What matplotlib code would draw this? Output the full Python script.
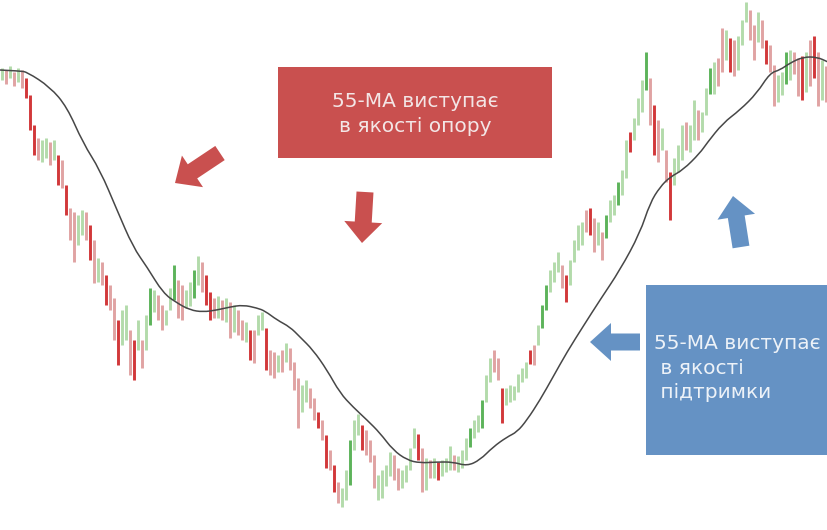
import matplotlib
matplotlib.use("Agg")
import matplotlib.pyplot as plt
from matplotlib.patches import FancyArrow, Rectangle, PathPatch
from matplotlib.path import Path

# ---- data (price levels, arbitrary points) ----
highs = [462, 460, 464, 458, 462, 460, 452, 435, 405, 392,
         390, 392, 388, 390, 375, 370, 345, 322, 318, 315,
         320, 318, 305, 290, 272, 268, 255, 245, 232, 210,
         220, 225, 200, 190, 210, 190, 215, 242, 240, 235,
         225, 220, 242, 265, 250, 245, 240, 248, 260, 274,
         268, 255, 238, 232, 234, 230, 232, 228, 225, 220,
         210, 208, 200, 200, 215, 218, 202, 180, 178, 175,
         180, 187, 182, 168, 152, 145, 150, 142, 132, 118,
         110, 95, 80, 65, 48, 42, 60, 90, 110, 116,
         105, 100, 90, 75, 55, 60, 65, 78, 75, 62,
         60, 65, 82, 102, 96, 82, 72, 70, 72, 68,
         70, 72, 84, 75, 74, 80, 92, 102, 110, 115,
         130, 155, 172, 180, 172, 142, 142, 145, 144, 156,
         162, 168, 180, 185, 205, 225, 245, 260, 268, 278,
         265, 255, 270, 290, 305, 308, 320, 322, 312, 308,
         298, 315, 330, 335, 348, 360, 390, 398, 412, 432,
         450, 478, 452, 425, 410, 402, 380, 358, 372, 385,
         405, 408, 405, 430, 420, 418, 442, 462, 468, 472,
         502, 500, 492, 490, 494, 510, 528, 520, 505, 518,
         510, 490, 485, 465, 455, 458, 478, 480, 478, 472,
         474, 478, 490, 494, 478, 470, 464]
lows = [450, 446, 452, 444, 448, 442, 432, 400, 375, 370,
        368, 372, 365, 370, 345, 342, 315, 290, 268, 285,
        295, 290, 270, 247, 248, 245, 225, 220, 190, 165,
        185, 190, 155, 150, 180, 162, 180, 205, 218, 210,
        200, 205, 220, 230, 212, 210, 222, 224, 232, 245,
        238, 225, 210, 212, 212, 210, 208, 192, 198, 195,
        190, 188, 170, 167, 195, 200, 160, 155, 152, 158,
        158, 168, 160, 140, 102, 118, 128, 122, 110, 102,
        90, 62, 60, 38, 27, 23, 30, 45, 80, 95,
        80, 75, 68, 42, 30, 32, 44, 54, 50, 40,
        42, 48, 60, 82, 70, 38, 40, 52, 52, 50,
        54, 58, 60, 60, 58, 62, 70, 83, 92, 98,
        102, 128, 148, 158, 150, 107, 125, 128, 130, 138,
        148, 152, 166, 165, 185, 202, 220, 238, 248, 258,
        242, 228, 245, 268, 280, 285, 298, 295, 278, 285,
        270, 292, 308, 315, 325, 335, 352, 378, 390, 405,
        418, 440, 405, 375, 368, 380, 348, 310, 345, 358,
        370, 380, 378, 390, 390, 398, 415, 436, 436, 444,
        458, 470, 458, 454, 460, 485, 508, 490, 470, 488,
        482, 466, 458, 424, 428, 435, 446, 450, 456, 434,
        430, 438, 444, 452, 424, 430, 428]
colour_codes = ("GRGRGRrrrR" "GGRGrRrRRG" "GRrRGRrRRr" "GGRrGRGgGR"
                "RGGgRRGGgG" "RrrRGRGRGR" "RGrRGGrRRG" "RGRRRGGRRr"
                "RrRrRGGgGG" "rRRRGGGGRR" "GGGGrRGRGr" "GGGRGGGgGG"
                "gGGRRrGGGG" "GGrRGggGGG" "RrGGGGRrRG" "RgGGgGGrGG"
                "GgRrRGRrGG" "GRGGRGGgGR" "RGrRGGGRRG" "RrRRGGgGRR"
                "rGRrRGR")

# 55-period moving average, read at bar positions
ma_pos = [-0.5, 4.5, 6.25, 12, 16.25, 20.25, 24.5, 28.75, 32.75, 36.25,
          40.25, 43.75, 47, 50.25, 53.75, 57, 60.25, 63.75, 65.75, 68.75,
          72, 74.5, 77.75, 81.25, 84.5, 87.75, 91.25, 94.5, 97.75, 101.25,
          104.5, 108.75, 112.75, 116.25, 119.5, 122.75, 126.25, 128.75, 131.25, 134.5,
          137.75, 141.25, 145.5, 149.5, 154.5, 159.5, 162, 164.5, 167, 170.25,
          174.5, 176.25, 180.25, 184.5, 188.75, 192, 194.5, 197, 200.25, 203.75,
          206.5]
ma_val = [460, 459, 458, 443, 423, 387, 360, 320, 283, 263,
          237, 227, 220, 218, 220, 223, 225, 222, 219, 210,
          203, 193, 180, 160, 137, 123, 110, 97, 80, 70,
          67, 68, 68, 64, 70, 83, 93, 98, 110, 130,
          153, 178, 205, 230, 260, 297, 327, 343, 353, 360,
          377, 387, 407, 420, 437, 457, 460, 467, 473, 473,
          468]

box_red_text = "55-МА виступає\nв якості опору"
box_blue_text = "55-МА виступає\n в якості\n підтримки"

palette = {"G": "#b3dbab", "g": "#5db35a", "R": "#e0a3a3", "r": "#d2383a"}
red_c = "#c9504f"
blue_c = "#6592c4"

W, H = 828, 530
fig = plt.figure(figsize=(W / 100, H / 100), dpi=100)
fig.patch.set_facecolor("white")

ax = fig.add_axes([0, 0, 1, 1])
ax.set_axis_off()
n = len(highs)
ax.set_xlim(-0.5, n - 0.5)
ax.set_ylim(0, 530)

for i, (h, l, c) in enumerate(zip(highs, lows, colour_codes)):
    ax.vlines(i, l, h, color=palette[c], linewidth=2.1, zorder=2)

# smooth rendering of the MA line through the read points (quadratic path)
pts = list(zip(ma_pos, ma_val))
verts = [pts[0]]
codes = [Path.MOVETO]
for k in range(1, len(pts) - 1):
    mid = ((pts[k][0] + pts[k + 1][0]) / 2, (pts[k][1] + pts[k + 1][1]) / 2)
    verts += [pts[k], mid]
    codes += [Path.CURVE3, Path.CURVE3]
verts.append(pts[-1])
codes.append(Path.LINETO)
ax.add_patch(PathPatch(Path(verts, codes), facecolor="none", edgecolor="#474747",
                       linewidth=1.1, zorder=3))

# overlay for annotations in figure pixels
ov = fig.add_axes([0, 0, 1, 1])
ov.set_axis_off()
ov.set_xlim(0, W)
ov.set_ylim(H, 0)
ov.patch.set_alpha(0)

ov.add_patch(Rectangle((278, 67), 274, 91, facecolor=red_c, edgecolor="none", zorder=4))
ov.text(415, 114, box_red_text, ha="center", va="center", color="#f3e6e6",
        fontsize=14.5, linespacing=1.45, zorder=5, family="DejaVu Sans")

ov.add_patch(Rectangle((646, 285), 190, 170, facecolor=blue_c, edgecolor="none", zorder=4))
ov.text(654, 368, box_blue_text, ha="left", va="center", color="#edf2f8",
        fontsize=14.5, linespacing=1.38, zorder=5, family="DejaVu Sans")

def arrow(x0, y0, x1, y1, col):
    ov.add_patch(FancyArrow(x0, y0, x1 - x0, y1 - y0, width=17, head_width=38,
                            head_length=21, length_includes_head=True,
                            facecolor=col, edgecolor="none", zorder=4))

arrow(220, 153, 175, 183, red_c)
arrow(365, 192, 362, 243, red_c)
arrow(640, 342, 590, 342, blue_c)
arrow(741, 247, 733, 196, blue_c)

fig.savefig("out.png", dpi=100, facecolor="white")
